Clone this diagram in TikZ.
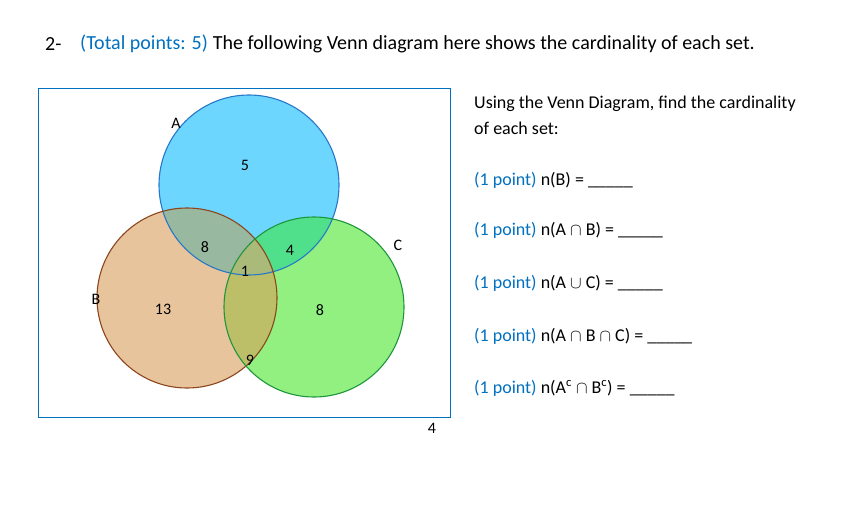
\documentclass[tikz,border=0pt]{standalone}
\usepackage{fontspec}
\setmainfont{Carlito}
\begin{document}
\begin{tikzpicture}[x=1pt,y=-1pt,
  txt/.style={anchor=west,inner sep=0pt,font=\fontsize{18}{21}\selectfont},
  num/.style={inner sep=0pt,font=\fontsize{16}{18}\selectfont}]
\definecolor{tblue}{RGB}{0,112,192}
\definecolor{fa}{RGB}{108,214,255}
\definecolor{fb}{RGB}{232,196,156}
\definecolor{fc}{RGB}{146,240,128}
\definecolor{fab}{RGB}{152,184,160}
\definecolor{fac}{RGB}{80,224,140}
\definecolor{fbc}{RGB}{188,190,104}
\definecolor{fabc}{RGB}{170,186,120}
\definecolor{sa}{RGB}{40,120,200}
\definecolor{sb}{RGB}{140,70,30}
\definecolor{sc}{RGB}{30,150,60}
\useasboundingbox (0,0) rectangle (861,522);
\node[txt] (t1) at (45,44) {\fontsize{20}{23}\selectfont 2-};
\node[txt,text=tblue] (t2) at (80,44) {\fontsize{20}{23}\selectfont (Total points: 5)};
\node[txt,anchor=west] (t3) at (t2.east) {\fontsize{20}{23}\selectfont\ The following Venn diagram here shows the cardinality of each set.};
\node[draw=tblue,line width=1.4pt,minimum width=412pt,minimum height=329pt,anchor=north west,inner sep=0pt] (box) at (38,88) {};
\coordinate (ca) at (249,185);
\coordinate (cb) at (187,298);
\coordinate (cc) at (314,307);
\fill[fa] (ca) circle (90);
\fill[fb] (cb) circle (90);
\fill[fc] (cc) circle (90);
\begin{scope}\clip (ca) circle (90); \fill[fab] (cb) circle (90); \fill[fac] (cc) circle (90);\end{scope}
\begin{scope}\clip (cb) circle (90); \fill[fbc] (cc) circle (90);
  \clip (cc) circle (90); \fill[fabc] (ca) circle (90);\end{scope}
\draw[sa,line width=1.1pt] (ca) circle (90);
\draw[sb,line width=1.1pt] (cb) circle (90);
\draw[sc,line width=1.1pt] (cc) circle (90);
\node[num] (lA) at (176,123) {A};
\node[num] (lB) at (96,299) {B};
\node[num] (lC) at (398,245) {C};
\node[num] (n1) at (245,165) {5};
\node[num] (n2) at (205,247) {8};
\node[num] (n3) at (290,250) {4};
\node[num] (n4) at (245,271) {1};
\node[num] (n5) at (163,309) {13};
\node[num] (n6) at (320,310) {8};
\node[num] (n7) at (250,360) {9};
\node[num] (n8) at (432,428) {4};
\node[txt] (r1) at (474,104) {Using the Venn Diagram, find the cardinality};
\node[txt] (r2) at (474,128) {of each set:};
\node[txt] (q1) at (474,180) {\textcolor{tblue}{(1 point)} n(B) = \_\_\_\_\_};
\node[txt] (q2) at (474,230) {\textcolor{tblue}{(1 point)} n(A $\cap$ B) = \_\_\_\_\_};
\node[txt] (q3) at (474,283) {\textcolor{tblue}{(1 point)} n(A $\cup$ C) = \_\_\_\_\_};
\node[txt] (q4) at (474,336) {\textcolor{tblue}{(1 point)} n(A $\cap$ B $\cap$ C) = \_\_\_\_\_};
\node[txt] (q5) at (474,388) {\textcolor{tblue}{(1 point)} n(A\textsuperscript{c} $\cap$ B\textsuperscript{c}) = \_\_\_\_\_};
\end{tikzpicture}
\end{document}
